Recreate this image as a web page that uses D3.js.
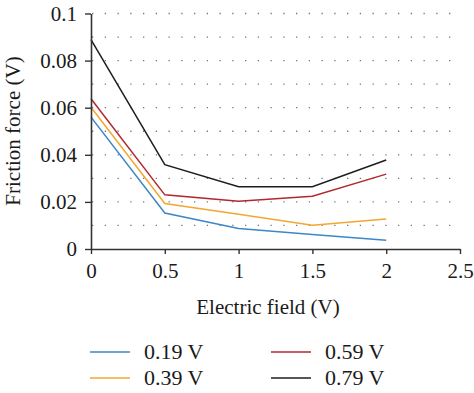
<!DOCTYPE html>
<html><head><meta charset="utf-8">
<script src="https://cdn.jsdelivr.net/npm/d3@7"></script>
<style>body{margin:0;background:#fff}svg{display:block}svg text{font-family:"Liberation Serif","DejaVu Serif",serif !important;fill:#1a1a1a}</style>
</head><body><svg id="c" width="474" height="393"></svg>
<script>
const xValues = [0, 0.5, 1, 1.5, 2];
const seriesNames = ["0.19 V", "0.39 V", "0.59 V", "0.79 V"];
const s019 = [0.0560, 0.0153, 0.0087, 0.0062, 0.0037];
const s039 = [0.0602, 0.0193, 0.0148, 0.0101, 0.0127];
const s059 = [0.0638, 0.0230, 0.0203, 0.0224, 0.0318];
const s079 = [0.0889, 0.0358, 0.0264, 0.0264, 0.0378];
const xTicks = [0, 0.5, 1, 1.5, 2, 2.5];
const xTickLabels = ["0", "0.5", "1", "1.5", "2", "2.5"];
const yTicks = [0, 0.02, 0.04, 0.06, 0.08, 0.1];
const yTickLabels = ["0", "0.02", "0.04", "0.06", "0.08", "0.1"];
const gridValues = [0.01,0.02,0.03,0.04,0.05,0.06,0.07,0.08,0.09,0.1];
const colors = ["#3c87c7", "#f4a630", "#b3282d", "#1e1e1e"];
const allSeries = [s019, s039, s059, s079];

const svg = d3.select("#c");
const x = d3.scaleLinear().domain([0, 2.5]).range([91, 460]);
const y = d3.scaleLinear().domain([0, 0.1]).range([249, 13.5]);

// dotted grid
svg.append("g").selectAll("line").data(gridValues).join("line")
  .attr("x1", x(0)).attr("x2", x(2.5)).attr("y1", d => y(d)).attr("y2", d => y(d))
  .attr("stroke", "#777").attr("stroke-width", 1.3)
  .attr("stroke-dasharray", "1.3,11.45").attr("stroke-dashoffset", -1);

// lines
const line = d3.line().x((d, i) => x(xValues[i])).y(d => y(d));
svg.append("g").selectAll("path").data(allSeries).join("path")
  .attr("d", d => line(d)).attr("fill", "none")
  .attr("stroke", (d, i) => colors[i]).attr("stroke-width", 1.5);

// axes
const xAxis = d3.axisBottom(x).tickValues(xTicks).tickFormat((d, i) => xTickLabels[i]).tickSize(5).tickSizeOuter(0);
const gx = svg.append("g").attr("transform", `translate(0,${y(0)})`).call(xAxis)
  .attr("font-family", null).attr("font-size", null);
gx.select(".domain").attr("stroke", "#333").attr("stroke-width", 1.6);
gx.selectAll(".tick line").attr("stroke", "#333").attr("stroke-width", 1.4);
gx.selectAll(".tick text").attr("font-size", 21).attr("dy", 0).attr("y", 29).attr("fill", "#1a1a1a");

const yAxis = d3.axisLeft(y).tickValues(yTicks).tickFormat((d, i) => yTickLabels[i]).tickSize(6).tickSizeOuter(0);
const gy = svg.append("g").attr("transform", `translate(${x(0)},0)`).call(yAxis)
  .attr("font-family", null).attr("font-size", null);
gy.select(".domain").attr("stroke", "#333").attr("stroke-width", 1.6);
gy.selectAll(".tick line").attr("stroke", "#333").attr("stroke-width", 1.4);
gy.selectAll(".tick text").attr("font-size", 21).attr("x", -14).attr("dy", "0.33em").attr("fill", "#1a1a1a");

// axis titles
svg.append("text").attr("x", 268).attr("y", 314).attr("text-anchor", "middle")
  .attr("font-size", 21).text("Electric field (V)");
svg.append("text").attr("transform", "translate(20,131) rotate(-90)").attr("text-anchor", "middle")
  .attr("font-size", 21).text("Friction force (V)");

// legend
const legPos = [[90, 352], [90, 378], [271, 352], [271, 378]];
const leg = svg.append("g").selectAll("g").data(seriesNames).join("g")
  .attr("transform", (d, i) => `translate(${legPos[i][0]},${legPos[i][1]})`);
leg.append("line").attr("x1", 0).attr("x2", 40).attr("y1", 0).attr("y2", 0)
  .attr("stroke", (d, i) => colors[i]).attr("stroke-width", 1.5);
leg.append("text").attr("x", 54).attr("y", 7).attr("font-size", 22).text(d => d);
</script></body></html>
